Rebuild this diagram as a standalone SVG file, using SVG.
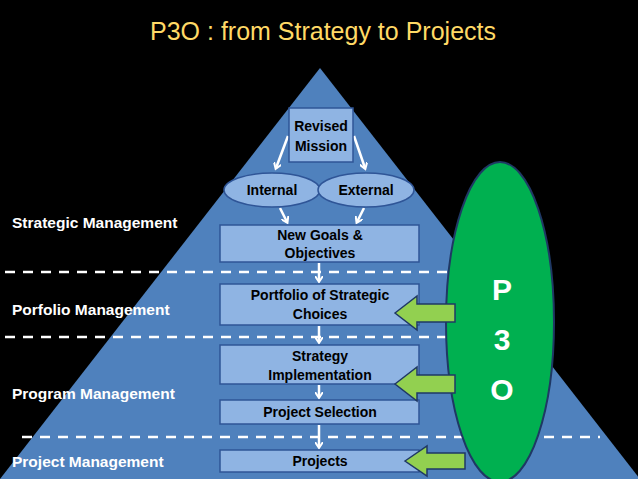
<svg xmlns="http://www.w3.org/2000/svg" width="638" height="479" viewBox="0 0 638 479">
<style>
text{font-family:"Liberation Sans",Arial,sans-serif;font-weight:bold}
.lbl{fill:#fff;font-size:15.5px}
.bx{fill:#8fb4e3;stroke:#2f5597;stroke-width:1.5}
.t{fill:#000;font-size:14px;text-anchor:middle}
.dash{stroke:#fff;stroke-width:2.5;stroke-dasharray:10,8;fill:none}
.ar{stroke:#fff;stroke-width:2.5;fill:none;marker-end:url(#ah)}
.ga{fill:#92d050;stroke:#1f3864;stroke-width:1.5}
</style>
<defs><marker id="ah" markerWidth="8" markerHeight="8" refX="5" refY="4" orient="auto" markerUnits="userSpaceOnUse"><path d="M0,0 L6,4 L0,8" stroke="#fff" stroke-width="2" fill="none"/></marker></defs>
<rect width="638" height="479" fill="#000"/>
<text x="323" y="40" fill="#ffd966" font-size="25" text-anchor="middle" style="font-weight:normal">P3O : from Strategy to Projects</text>
<polygon points="320,68 640,479 0,479" fill="#4f81bd"/>
<g id="connectors">
<path class="dash" d="M5,272 H448"/>
<path class="dash" d="M5,337 H448"/>
<path class="dash" d="M22,437 H600"/>
<path class="ar" d="M288,136 L276,168"/>
<path class="ar" d="M354,136 L365,168"/>
<path class="ar" d="M280,208 L287,222"/>
<path class="ar" d="M364,208 L357,222"/>
<path class="ar" d="M319,263 V281"/>
<path class="ar" d="M319,326 V342"/>
<path class="ar" d="M319,385 V397"/>
<path class="ar" d="M319,425 V447"/>
</g>
<g id="labels">
<text class="lbl" x="12" y="228">Strategic Management</text>
<text class="lbl" x="12" y="315">Porfolio Management</text>
<text class="lbl" x="12" y="399">Program Management</text>
<text class="lbl" x="12" y="467">Project Management</text>
</g>
<g id="revised"><rect class="bx" x="289" y="108" width="64" height="54"/><text class="t" x="321" y="131">Revised</text><text class="t" x="321" y="151">Mission</text></g>
<g id="internal"><ellipse class="bx" cx="272" cy="190" rx="48" ry="17"/><text class="t" x="272" y="195">Internal</text></g>
<g id="external"><ellipse class="bx" cx="366" cy="190" rx="48" ry="17"/><text class="t" x="366" y="195">External</text></g>
<g id="goals"><rect class="bx" x="220" y="225" width="199" height="37"/><text class="t" x="320" y="240">New Goals &amp;</text><text class="t" x="320" y="258">Objectives</text></g>
<g id="portfolio"><rect class="bx" x="220" y="284" width="199" height="41"/><text class="t" x="320" y="300">Portfolio of Strategic</text><text class="t" x="320" y="319">Choices</text></g>
<g id="impl"><rect class="bx" x="220" y="345" width="199" height="39"/><text class="t" x="320" y="361">Strategy</text><text class="t" x="320" y="380">Implementation</text></g>
<g id="selection"><rect class="bx" x="220" y="400" width="199" height="24"/><text class="t" x="320" y="417">Project Selection</text></g>
<g id="projects"><rect class="bx" x="220" y="450" width="199" height="22"/><text class="t" x="320" y="466">Projects</text></g>
<g id="p3o"><ellipse cx="500" cy="322" rx="54" ry="160" fill="#00b050" stroke="#1f3864" stroke-width="2"/>
<text x="502" y="300" fill="#fff" font-size="30" text-anchor="middle">P</text>
<text x="502" y="350" fill="#fff" font-size="30" text-anchor="middle">3</text>
<text x="502" y="400" fill="#fff" font-size="30" text-anchor="middle">O</text></g>
<g id="garrows">
<polygon class="ga" points="395,313 417,296 417,304 455,304 455,322 417,322 417,330"/>
<polygon class="ga" points="395,384 417,367 417,375 455,375 455,393 417,393 417,401"/>
<polygon class="ga" points="405,461 427,446 427,453 465,453 465,469 427,469 427,476"/>
</g>
</svg>
